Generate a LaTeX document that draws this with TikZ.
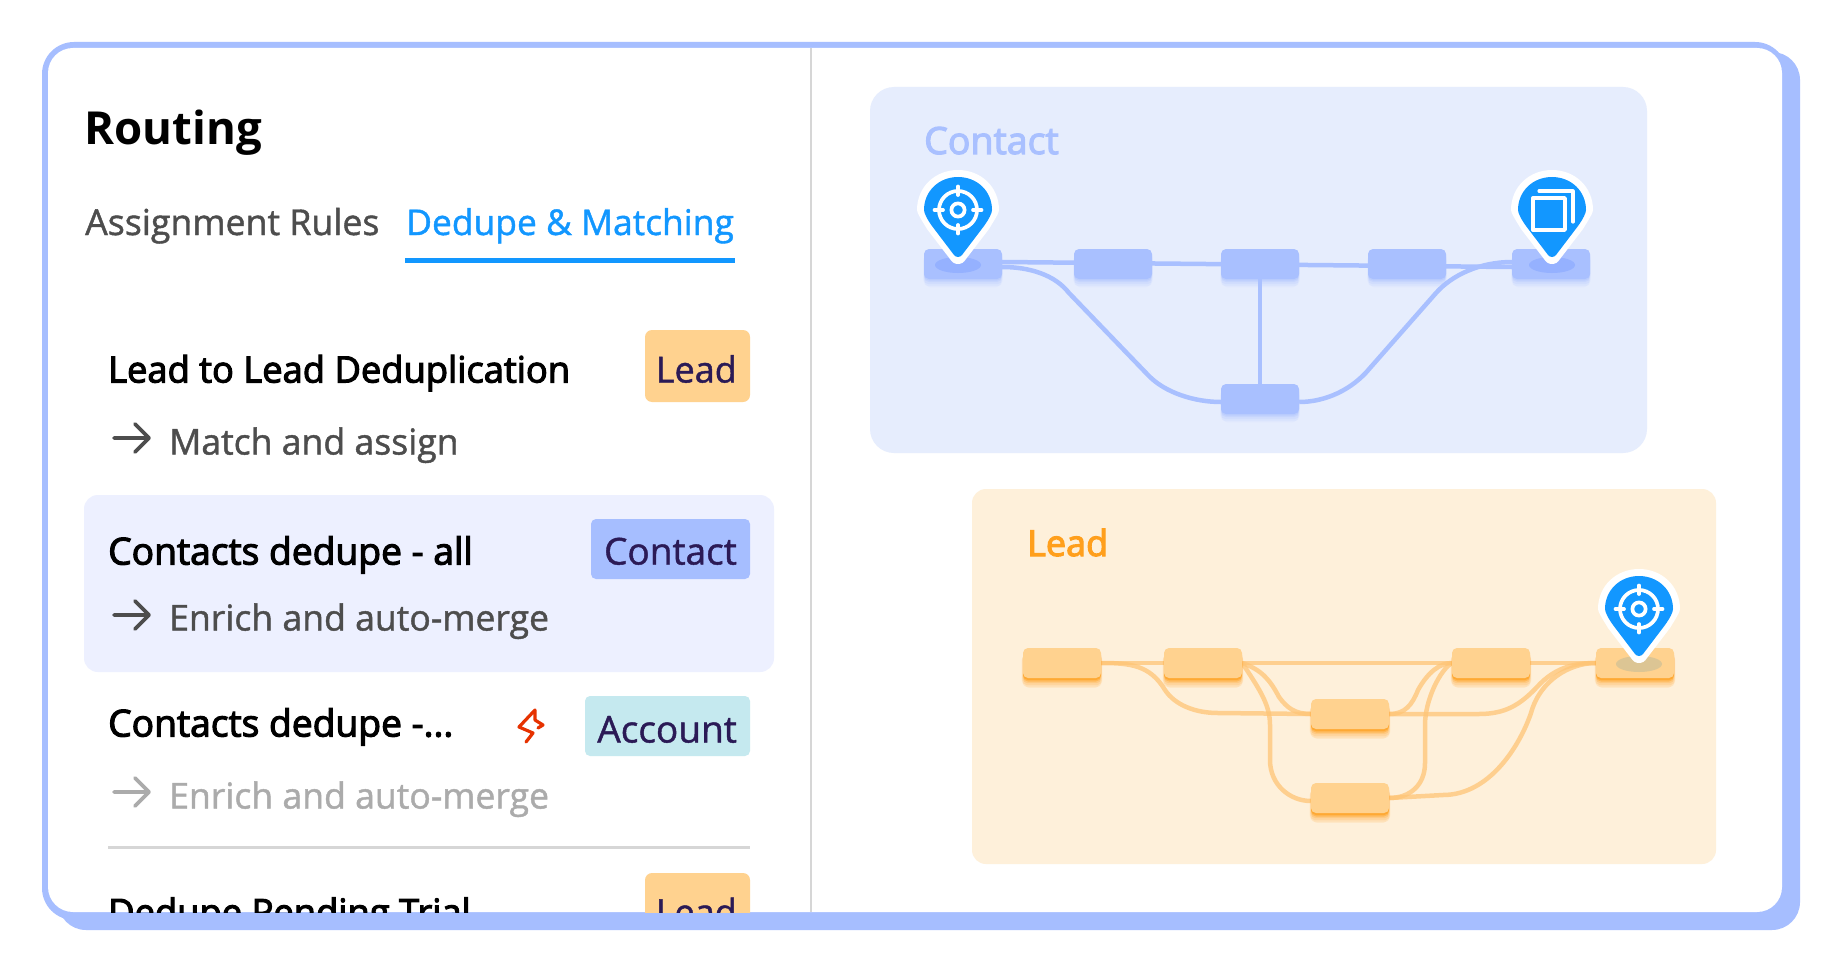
\documentclass[tikz,border=0pt]{standalone}
\usepackage{fontspec}
\setmainfont{Open Sans}
\newfontfamily\fmed[FakeBold=3]{Open Sans}
\newfontfamily\flite[FakeBold=1.2]{Open Sans}
\usetikzlibrary{shadows}
\definecolor{frameblue}{HTML}{A6BEFF}
\definecolor{tabblue}{HTML}{1297FF}
\definecolor{ink}{HTML}{2B1A56}
\definecolor{graytext}{HTML}{4D4D4D}
\definecolor{lightgray}{HTML}{ABABAB}
\definecolor{rulegray}{HTML}{D6D6D6}
\definecolor{rowhl}{HTML}{EDF0FF}
\definecolor{leadbadge}{HTML}{FFD28F}
\definecolor{accbadge}{HTML}{C5E9EF}
\definecolor{contactbg}{HTML}{E6EDFD}
\definecolor{leadbg}{HTML}{FEF0DA}
\definecolor{contactline}{HTML}{A9C0FF}
\definecolor{leadline}{HTML}{FFC576}
\definecolor{leadorange}{HTML}{FF9F1C}
\definecolor{boltred}{HTML}{E63200}
\definecolor{ellblue}{HTML}{95B1FF}
\definecolor{ellorange}{HTML}{DCC594}
\pgfdeclarelayer{back}
\pgfdeclarelayer{conn}
\pgfsetlayers{back,conn,main}
\newcommand{\fs}[1]{\fontsize{#1}{#1}\selectfont}
\tikzset{
  x=1pt,y=-1pt,
  title/.style={anchor=base west,inner sep=0pt,font=\fs{45.5}\bfseries,text=black},
  tab/.style={anchor=base west,inner sep=0pt,font=\flite\fs{35.7},text=graytext},
  rowtitle/.style={anchor=base west,inner sep=0pt,font=\fmed\fs{36.3},text=black},
  rowtitlewide/.style={anchor=base west,inner sep=0pt,font=\fmed\fs{37.2},text=black},
  rowsub/.style={anchor=base west,inner sep=0pt,font=\flite\fs{35.6},text=graytext},
  badgetxt/.style={anchor=base east,inner sep=0pt,font=\flite\fs{36},text=ink},
  badgetxtwide/.style={anchor=base east,inner sep=0pt,font=\flite\fs{37},text=ink},
  flowlabel/.style={anchor=base west,inner sep=0pt,font=\fmed\fs{36}},
  cbox/.style={rectangle,rounded corners=5pt,minimum width=78pt,minimum height=30pt,inner sep=0pt,fill=contactline,
    general shadow={shadow yshift=-9pt,shadow scale=.97,fill=contactline,fill opacity=.07},
    general shadow={shadow yshift=-7pt,shadow scale=1.01,fill=contactline,fill opacity=.12},
    general shadow={shadow yshift=-5pt,shadow scale=1.01,fill=contactline,fill opacity=.18},
    general shadow={shadow yshift=-3pt,fill=contactline,fill opacity=.25},
    general shadow={shadow yshift=-1.5pt,fill=contactline,fill opacity=.35}},
  lbox/.style={rectangle,rounded corners=5pt,minimum width=78pt,minimum height=30pt,inner sep=0pt,fill=leadbadge,
    general shadow={shadow yshift=-11pt,shadow scale=.96,fill=leadorange,fill opacity=.05},
    general shadow={shadow yshift=-9.5pt,shadow scale=1.0,fill=leadorange,fill opacity=.08},
    general shadow={shadow yshift=-8pt,shadow scale=1.03,fill=leadorange,fill opacity=.08},
    general shadow={shadow yshift=-6.5pt,shadow scale=1.03,fill=leadorange,fill opacity=.14},
    general shadow={shadow yshift=-5pt,shadow scale=1.01,fill=leadorange,fill opacity=.22},
    general shadow={shadow yshift=-3.5pt,fill=leadorange,fill opacity=.4},
    general shadow={shadow yshift=-2pt,fill=leadorange,fill opacity=.6}},
  cflow/.style={draw=contactline,line width=4.5pt},
  lflow/.style={draw=leadline,line width=4.5pt,draw opacity=.75},
  ticon/.style={draw=white,line width=3.7pt,line cap=round,fill=none},
}
\newcommand{\pinshape}[3]{%
  \begin{scope}[shift={(#1,#2)}]
  \fill[#3] (0,53) .. controls (-4,53) and (-6,51) .. (-8,48)
     -- (-31,18) .. controls (-37,8) and (-41,2) .. (-41,-1)
     .. controls (-41,-24) and (-23,-41) .. (0,-41)
     .. controls (23,-41) and (41,-24) .. (41,-1)
     .. controls (41,2) and (37,8) .. (31,18)
     -- (8,48) .. controls (6,51) and (4,53) .. (0,53) -- cycle;
  \fill[tabblue] (0,46) .. controls (-2,46) and (-3,45) .. (-4,44)
     -- (-26,15) .. controls (-31,8) and (-34,2) .. (-34,-1)
     .. controls (-34,-20) and (-19,-34) .. (0,-34)
     .. controls (19,-34) and (34,-20) .. (34,-1)
     .. controls (34,2) and (31,8) .. (26,15)
     -- (4,44) .. controls (3,45) and (2,46) .. (0,46) -- cycle;
  \end{scope}}
\newcommand{\targeticon}[2]{%
  \begin{scope}[shift={(#1,#2)}]
  \draw[ticon] (0,0) circle[radius=19];
  \draw[ticon] (0,0) circle[radius=6.6];
  \draw[ticon] (0,-23.5) -- (0,-15);
  \draw[ticon] (0,23.5) -- (0,15);
  \draw[ticon] (-23.5,0) -- (-15,0);
  \draw[ticon] (23.5,0) -- (15,0);
  \end{scope}}
\newcommand{\arrowicon}[3]{%
  \begin{scope}[shift={(#1,#2)}]
  \draw[#3,line width=3.8pt,line cap=round,line join=round] (0,0) -- (35,0) (21,-14) -- (35,0) -- (21,14);
  \end{scope}}
\begin{document}
\begin{tikzpicture}
\useasboundingbox (0,0) rectangle (1830,960);
\begin{pgfonlayer}{back}
  \fill[white] (0,0) rectangle (1830,960);
  \fill[frameblue,rounded corners=28pt] (58,52) rectangle (1800,930);
  \fill[frameblue,rounded corners=32pt] (42,42) rectangle (1787,920);
  \fill[white,rounded corners=25pt] (48,48) rectangle (1782,912);
  \fill[rulegray] (809.8,48) rectangle (812.2,912);
  \fill[rowhl,rounded corners=14pt] (84,495) rectangle (774,672);
  \fill[tabblue] (405,258) rectangle (735,263);
  \fill[rulegray] (108,846) rectangle (750,849);
  \fill[contactbg,rounded corners=24pt] (870,87) rectangle (1647,453);
  \fill[leadbg,rounded corners=14pt] (972,489) rectangle (1716,864);
\end{pgfonlayer}

\node[title] (routing) at (84.5,145) {Routing};
\node[tab] (tabrules) at (85,235) {Assignment Rules};
\node[tab,text=tabblue,font=\flite\fs{35.4}] (tabdedupe) at (406,235) {Dedupe \& Matching};

\node[fill=leadbadge,rounded corners=7pt,minimum width=105pt,minimum height=72pt,inner sep=0pt] (b1) at (697.5,366) {};
\node[badgetxt] (b1t) at (737,382.5) {Lead};
\node[rowtitle] (r1) at (108,382.5) {Lead to Lead Deduplication};
\arrowicon{114}{438}{graytext}
\node[rowsub] (r1s) at (169,454.5) {Match and assign};

\node[fill=frameblue,rounded corners=5pt,minimum width=159pt,minimum height=60pt,inner sep=0pt] (b2) at (670.5,549) {};
\node[badgetxtwide] (b2t) at (737,564.5) {Contact};
\node[rowtitlewide] (r2) at (108,564.5) {Contacts dedupe - all};
\arrowicon{114}{615}{graytext}
\node[rowsub] (r2s) at (169,630.5) {Enrich and auto-merge};

\node[fill=accbadge,rounded corners=5pt,minimum width=165pt,minimum height=60pt,inner sep=0pt] (b3) at (667.5,726) {};
\node[badgetxtwide] (b3t) at (737,742.5) {Account};
\node[rowtitlewide] (r3) at (108,736.5) {Contacts dedupe -...};
\draw[boltred,line width=3.2pt,line cap=round,line join=round]
  (535,710) -- (519,727) -- (533,733) -- (526,742) (535,710) -- (535,720) -- (543,725) -- (538,728);
\arrowicon{114}{792}{lightgray}
\node[rowsub,text=lightgray] (r3s) at (169,808.5) {Enrich and auto-merge};

\begin{scope}
  \clip (48,800) rectangle (809,912);
  \node[fill=leadbadge,rounded corners=7pt,minimum width=105pt,minimum height=72pt,inner sep=0pt] (b4) at (697.5,909) {};
  \node[badgetxt] (b4t) at (737,925) {Lead};
  \node[rowtitle] (r4) at (108,925) {Dedupe Pending Trial};
\end{scope}

\node[flowlabel,text=contactline,font=\fmed\fs{37.5}] (clabel) at (924,154) {Contact};
\node[cbox] (c1) at (963,264) {};
\node[cbox] (c2) at (1113,264) {};
\node[cbox] (c3) at (1260,264) {};
\node[cbox] (c4) at (1407,264) {};
\node[cbox] (c5) at (1551,264) {};
\node[cbox] (c6) at (1260,399) {};
\begin{pgfonlayer}{conn}
  \draw[cflow] ([yshift=2pt]c1.east) -- ([yshift=-3pt]c5.west);
  \draw[cflow] (c3.south) -- (c6.north);
  \draw[cflow] ([yshift=-3pt]c1.east) .. controls (1030,267) and (1055,275) .. (1069,293)
     -- (1148,375) .. controls (1165,393) and (1195,402) .. ([yshift=-3pt]c6.west);
  \draw[cflow] ([yshift=-3pt]c6.east) .. controls (1325,402) and (1352,390) .. (1370,368)
     -- (1436,293) .. controls (1452,275) and (1480,262) .. ([yshift=2pt]c5.west);
\end{pgfonlayer}
\fill[ellblue] (958,265) ellipse[x radius=23,y radius=8];
\fill[ellblue] (1552,265) ellipse[x radius=23,y radius=8];
\pinshape{958}{211}{white}
\targeticon{958}{210}
\pinshape{1552}{211}{white}
\begin{scope}
  \draw[white,line width=3.4pt,line join=round] (1533,198) rectangle (1565,230);
  \draw[white,line width=3.2pt,line cap=round,line join=round] (1539,191) -- (1573,191) -- (1573,222);
\end{scope}

\node[flowlabel,text=leadorange] (llabel) at (1027,556) {Lead};
\node[lbox] (l1) at (1062,663) {};
\node[lbox] (l2) at (1203,663) {};
\node[lbox] (l3) at (1350,714) {};
\node[lbox] (l4) at (1350,798) {};
\node[lbox] (l5) at (1491,663) {};
\node[lbox] (l6) at (1635,663) {};
\begin{pgfonlayer}{conn}
  \draw[lflow] (l1.east) -- (l2.west);
  \draw[lflow] (l2.east) -- (l5.west);
  \draw[lflow] (l5.east) -- (l6.west);
  \draw[lflow] (l1.east) .. controls (1130,663) and (1150,665) .. (1165,690)
     .. controls (1175,705) and (1195,713) .. (1218,713) -- (l3.west);
  \draw[lflow] (l3.east) -- (1479,714) .. controls (1505,714) and (1520,705) .. (1537,687)
     .. controls (1555,667) and (1575,663) .. (l6.west);
  \draw[lflow] (l2.east) .. controls (1262,670) and (1270,680) .. (1279,697)
     .. controls (1287,708) and (1295,714) .. (l3.west);
  \draw[lflow] (l2.east) .. controls (1260,690) and (1270,705) .. (1270,725) -- (1270,760)
     .. controls (1270,785) and (1290,801) .. ([yshift=-3pt]l4.west);
  \draw[lflow] (l3.east) .. controls (1405,714) and (1412,705) .. (1418,690)
     .. controls (1428,672) and (1440,663) .. (l5.west);
  \draw[lflow] (l4.east) .. controls (1410,798) and (1425,785) .. (1425,763) -- (1425,725)
     .. controls (1425,700) and (1440,670) .. (l5.west);
  \draw[lflow] (l4.east) -- (1443,795) .. controls (1490,795) and (1520,745) .. (1531,713)
     .. controls (1540,680) and (1570,663) .. (l6.west);
\end{pgfonlayer}
\fill[ellorange] (1639,664) ellipse[x radius=23,y radius=8];
\pinshape{1639}{610}{white}
\targeticon{1639}{609}
\end{tikzpicture}
\end{document}
